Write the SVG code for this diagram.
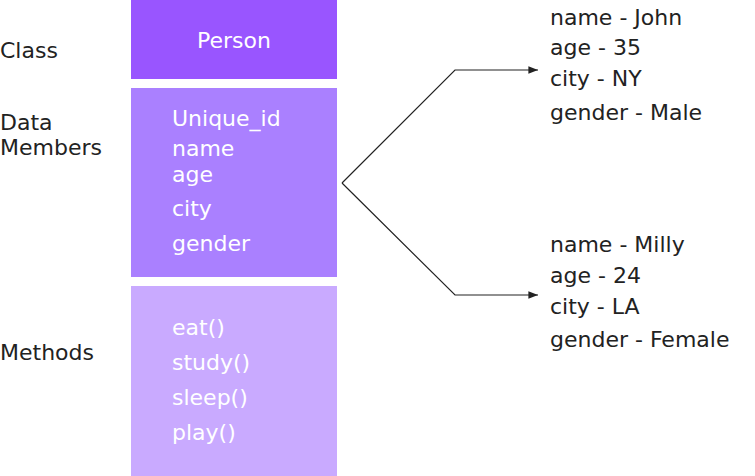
<svg xmlns="http://www.w3.org/2000/svg" width="755" height="476" viewBox="0 0 755 476">
<style>
text{font-family:"DejaVu Sans",sans-serif;font-size:22px}
.w{fill:#fff}.k{fill:#222}
</style>
<defs><marker id="a" viewBox="0 0 10 10" refX="10" refY="5" markerWidth="8" markerHeight="8" orient="auto"><path d="M0,1 L10,5 L0,9 z" fill="#222"/></marker></defs>
<rect width="755" height="476" fill="#fff"/>
<g id="labels" class="k">
<text x="0" y="58" class="k">Class</text>
<text x="0" y="130" class="k">Data</text>
<text x="0" y="155" class="k">Members</text>
<text x="0" y="360" class="k">Methods</text>
</g>
<g id="class"><rect x="131" y="0" width="206" height="79" fill="#9955ff"/><text x="234" y="48" text-anchor="middle" class="w">Person</text></g>
<g id="data"><rect x="131" y="88" width="206" height="189" fill="#aa80ff"/>
<text x="172" y="126" class="w">Unique_id</text><text x="172" y="156" class="w">name</text><text x="172" y="182" class="w">age</text><text x="172" y="216" class="w">city</text><text x="172" y="251" class="w">gender</text></g>
<g id="methods"><rect x="131" y="286" width="206" height="190" fill="#c9aaff"/>
<text x="172" y="335" class="w">eat()</text><text x="172" y="370" class="w">study()</text><text x="172" y="405" class="w">sleep()</text><text x="172" y="440" class="w">play()</text></g>
<g id="connectors" fill="none" stroke="#222" stroke-width="1.2">
<path d="M342,183 L455,70 L538,70" marker-end="url(#a)"/>
<path d="M342,183 L455,295 L538,295" marker-end="url(#a)"/>
</g>
<g id="john" class="k"><text x="550" y="25">name - John</text><text x="550" y="55">age - 35</text><text x="550" y="86">city - NY</text><text x="550" y="120">gender - Male</text></g>
<g id="milly" class="k"><text x="550" y="252">name - Milly</text><text x="550" y="283">age - 24</text><text x="550" y="314">city - LA</text><text x="550" y="347">gender - Female</text></g>
</svg>
